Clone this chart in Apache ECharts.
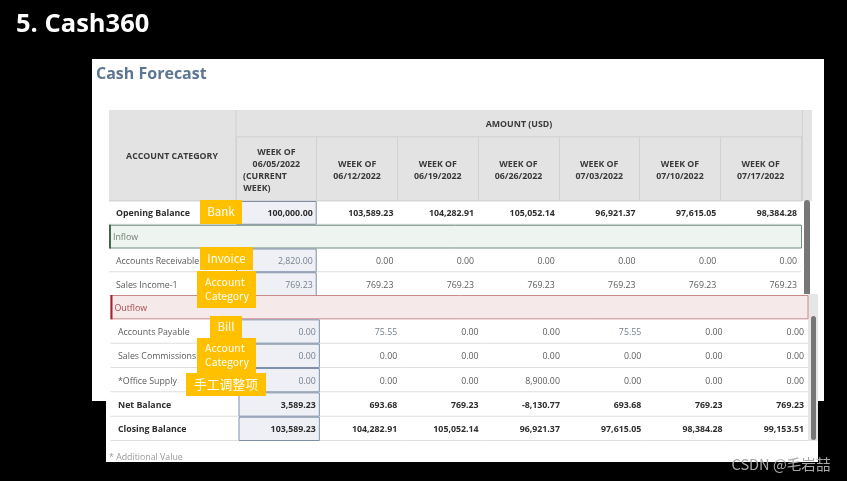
<!DOCTYPE html>
<html>
<head>
<meta charset="utf-8">
<style>html,body{margin:0;padding:0;background:#000}#main{width:847px;height:481px}</style>
<script src="https://cdn.jsdelivr.net/npm/echarts@6/dist/echarts.min.js"></script>
</head>
<body>
<div id="main"></div>
<script>
var weeks = ['WEEK OF\n06/05/2022\n(CURRENT\u00a0\u00a0\u00a0\u00a0\u00a0\u00a0\u00a0\u00a0\u00a0\u00a0\n WEEK)\u00a0\u00a0\u00a0\u00a0\u00a0\u00a0\u00a0\u00a0\u00a0\u00a0\u00a0\u00a0\u00a0\u00a0\u00a0\u00a0\u00a0\u00a0', 'WEEK OF\n06/12/2022', 'WEEK OF\n06/19/2022', 'WEEK OF\n06/26/2022', 'WEEK OF\n07/03/2022', 'WEEK OF\n07/10/2022', 'WEEK OF\n07/17/2022'];
var upperRows = ['Opening Balance', 'Inflow', 'Accounts Receivable', 'Sales Income-1'];
var lowerRows = ['Outflow', 'Accounts Payable', 'Sales Commissions', '*Office Supply', 'Net Balance', 'Closing Balance'];
var boldRows = ['Opening Balance', 'Net Balance', 'Closing Balance'];

var openingBalance = [100000.00, 103589.23, 104282.91, 105052.14, 96921.37, 97615.05, 98384.28];
var accountsReceivable = [2820.00, 0, 0, 0, 0, 0, 0];
var salesIncome = [769.23, 769.23, 769.23, 769.23, 769.23, 769.23, 769.23];
var accountsPayable = [0, 75.55, 0, 0, 75.55, 0, 0];
var salesCommissions = [0, 0, 0, 0, 0, 0, 0];
var officeSupply = [0, 0, 0, 8900.00, 0, 0, 0];
var netBalance = [3589.23, 693.68, 769.23, -8130.77, 693.68, 769.23, 769.23];
var closingBalance = [103589.23, 104282.91, 105052.14, 96921.37, 97615.05, 98384.28, 99153.51];

var font = '"Open Sans"';

function money(v) {
    return v.toLocaleString('en-US', {minimumFractionDigits: 2, maximumFractionDigits: 2});
}

// turn {row name: values} into [col, row, value] items, section rows get one empty item
function cells(rows, values) {
    var out = [];
    rows.forEach(function (name, r) {
        if (!values[name]) {
            out.push([0, r, null]);
            return;
        }
        values[name].forEach(function (v, c) {
            out.push([c, r, v]);
        });
    });
    return out;
}

function tableRender(rows, sectionWidth, accountWidth, sectionStyle) {
    return function (params, api) {
        var col = api.value(0), row = api.value(1), val = api.value(2);
        var name = rows[row];
        var c = api.coord([col, row]);
        var s = api.size([1, 1]);
        var x = c[0] - s[0] / 2, y = c[1] - s[1] / 2;
        var kids = [];
        if (isNaN(val) || val === null) {
            kids.push({type: 'rect', shape: {x: x - accountWidth + 0.5, y: y + 0.5, width: sectionWidth, height: s[1] - 1},
                style: {fill: sectionStyle.fill, stroke: sectionStyle.stroke, lineWidth: 1}});
            kids.push({type: 'rect', shape: {x: x - accountWidth, y: y, width: 2, height: s[1]},
                style: {fill: sectionStyle.bar}});
            kids.push({type: 'text', style: {text: name, x: x - accountWidth + 4, y: c[1] + 1, fill: sectionStyle.text,
                font: '8.8px ' + font, verticalAlign: 'middle'}});
            return {type: 'group', children: kids};
        }
        var bold = boldRows.indexOf(name) >= 0;
        if (col === 0) {
            kids.push({type: 'rect', shape: {x: x - accountWidth, y: y + s[1] - 1, width: accountWidth, height: 1}, style: {fill: '#dedede'}});
            kids.push({type: 'rect', shape: {x: x + 0.5, y: y + 0.5, width: s[0] - 1, height: s[1] - 1},
                style: {fill: '#eff0f5', stroke: '#7f8fa8', lineWidth: 1}});
        } else {
            kids.push({type: 'rect', shape: {x: x, y: y + s[1] - 1, width: s[0], height: 1}, style: {fill: '#dedede'}});
        }
        var color = bold ? '#2e2e2e' : (col === 0 || (val > 0 && val < 100) ? '#76818f' : '#5c5c5c');
        kids.push({type: 'text', style: {text: money(val), x: x + s[0] - 4, y: c[1] + 1, align: 'right', verticalAlign: 'middle',
            fill: color, font: (bold ? 'bold ' : '') + '8.8px ' + font}});
        return {type: 'group', children: kids};
    };
}

function accountLabel(name) {
    if (name === 'Inflow' || name === 'Outflow') return '';
    return (boldRows.indexOf(name) >= 0 ? '{b|' : '{n|') + name + '}';
}

var accountRich = {
    b: {fontFamily: font, fontSize: 8.8, fontWeight: 'bold', color: '#2e2e2e', padding: [2, 0, 0, 0]},
    n: {fontFamily: font, fontSize: 8.8, color: '#5c5c5c', padding: [2, 0, 0, 0]}
};

function rect(x, y, w, h, fill, z) {
    return {type: 'rect', z: z, shape: {x: x, y: y, width: w, height: h}, style: {fill: fill}};
}

function label(text, x, y, opts) {
    return {type: 'text', z: opts.z || 1, style: {text: text, x: x, y: y, fill: opts.fill, align: opts.align || 'center',
        verticalAlign: 'middle', font: opts.font, lineHeight: opts.lineHeight}};
}

// orange note on top of the table
function tag(x, y, w, h, text, size, textLeft) {
    return {type: 'group', z: 60, children: [
        rect(x, y, w, h, '#ffc000', 60),
        {type: 'text', z: 61, style: {text: text, x: textLeft ? x + textLeft : x + w / 2, y: y + h / 2, align: textLeft ? 'left' : 'center', verticalAlign: 'middle',
            fill: '#ffffff', font: (size || 11.5) + 'px "Noto Sans CJK SC"', lineHeight: 14}}
    ]};
}

var chart = echarts.init(document.getElementById('main'));
chart.setOption({
    backgroundColor: '#000000',
    animation: false,
    title: [
        {text: '5. Cash360', left: 11, top: 7, textStyle: {color: '#ffffff', fontFamily: font, fontSize: 25.5, fontWeight: 'bold'}},
        {text: 'Cash Forecast', left: 91, top: 61, textStyle: {color: '#5d7692', fontFamily: font, fontSize: 16, fontWeight: 'bold'}}
    ],
    graphic: {elements: [
        rect(92, 59, 732, 342, '#ffffff', 0),
        rect(109, 110, 703, 91, '#e3e3e3', 0),
        rect(802, 110, 1, 91, '#d2d2d2', 0),
        rect(236, 136, 566, 1.5, '#d6d6d6', 0),
        rect(109, 200, 693, 1.5, '#d6d6d6', 0),
        rect(235.5, 110, 1, 91, '#d2d2d2', 0),
        {type: 'rect', z: 0, shape: {x: 804, y: 200, width: 6, height: 96, r: 3}, style: {fill: '#777777'}},
        label('ACCOUNT CATEGORY', 172, 156, {fill: '#3a3a3a', font: 'bold 8.8px ' + font}),
        label('AMOUNT (USD)', 519, 124, {fill: '#3a3a3a', font: 'bold 8.8px ' + font}),
        rect(106, 294, 712, 168, '#ffffff', 1),
        rect(808, 294, 10, 147, '#e6e6e6', 1),
        {type: 'rect', z: 1, shape: {x: 811, y: 316, width: 5, height: 124, r: 2.5}, style: {fill: '#777777'}},
        label('* Additional Value', 109, 457, {align: 'left', fill: '#9a9a9a', font: '8.8px ' + font}),
        tag(200, 200, 42, 24, 'Bank'),
        tag(200, 247, 53, 23, 'Invoice'),
        tag(197, 271, 59, 37, 'Account\nCategory', 10.5, 8),
        tag(210, 316, 32, 22, 'Bill'),
        tag(197, 338, 59, 35, 'Account\nCategory', 10.5, 8),
        tag(186, 373, 80, 23, '手工调整项', 12.8),
        label('CSDN @毛岩喆', 781, 464, {z: 70, fill: '#a8a8a8', font: '14.6px "Noto Sans CJK SC"'})
    ]},
    grid: [
        {left: 236, top: 201, width: 565, height: 95},
        {left: 238.5, top: 295, width: 569.5, height: 146}
    ],
    xAxis: [
        {
            gridIndex: 0, type: 'category', position: 'top', data: weeks, z: 3,
            axisLine: {show: false},
            axisTick: {show: true, length: 64, lineStyle: {color: '#d2d2d2'}},
            axisLabel: {interval: 0, margin: 31, verticalAlign: 'middle', color: '#3a3a3a', fontFamily: font, fontSize: 8.8, fontWeight: 'bold', lineHeight: 12}
        },
        {gridIndex: 1, type: 'category', data: weeks, axisLine: {show: false}, axisTick: {show: false}, axisLabel: {show: false}}
    ],
    yAxis: [
        {
            gridIndex: 0, type: 'category', inverse: true, data: upperRows, z: 3,
            axisLine: {show: false}, axisTick: {show: false},
            axisLabel: {interval: 0, align: 'left', margin: 120, formatter: accountLabel, rich: accountRich}
        },
        {
            gridIndex: 1, type: 'category', inverse: true, data: lowerRows, z: 3,
            axisLine: {show: false}, axisTick: {show: false},
            axisLabel: {interval: 0, align: 'left', margin: 120.5, formatter: accountLabel, rich: accountRich}
        }
    ],
    series: [
        {
            type: 'custom', xAxisIndex: 0, yAxisIndex: 0, z: 2,
            encode: {x: 0, y: 1},
            data: cells(upperRows, {
                'Opening Balance': openingBalance,
                'Accounts Receivable': accountsReceivable,
                'Sales Income-1': salesIncome
            }),
            renderItem: tableRender(upperRows, 692, 127, {fill: '#eef4f0', stroke: '#6f8f7c', bar: '#3f6b52', text: '#6e7f74'})
        },
        {
            type: 'custom', xAxisIndex: 1, yAxisIndex: 1, z: 2,
            encode: {x: 0, y: 1},
            data: cells(lowerRows, {
                'Accounts Payable': accountsPayable,
                'Sales Commissions': salesCommissions,
                '*Office Supply': officeSupply,
                'Net Balance': netBalance,
                'Closing Balance': closingBalance
            }),
            renderItem: tableRender(lowerRows, 697, 128, {fill: '#f5e9e9', stroke: '#c98a8a', bar: '#a0262c', text: '#a8484c'})
        }
    ]
});
</script>
</body>
</html>
